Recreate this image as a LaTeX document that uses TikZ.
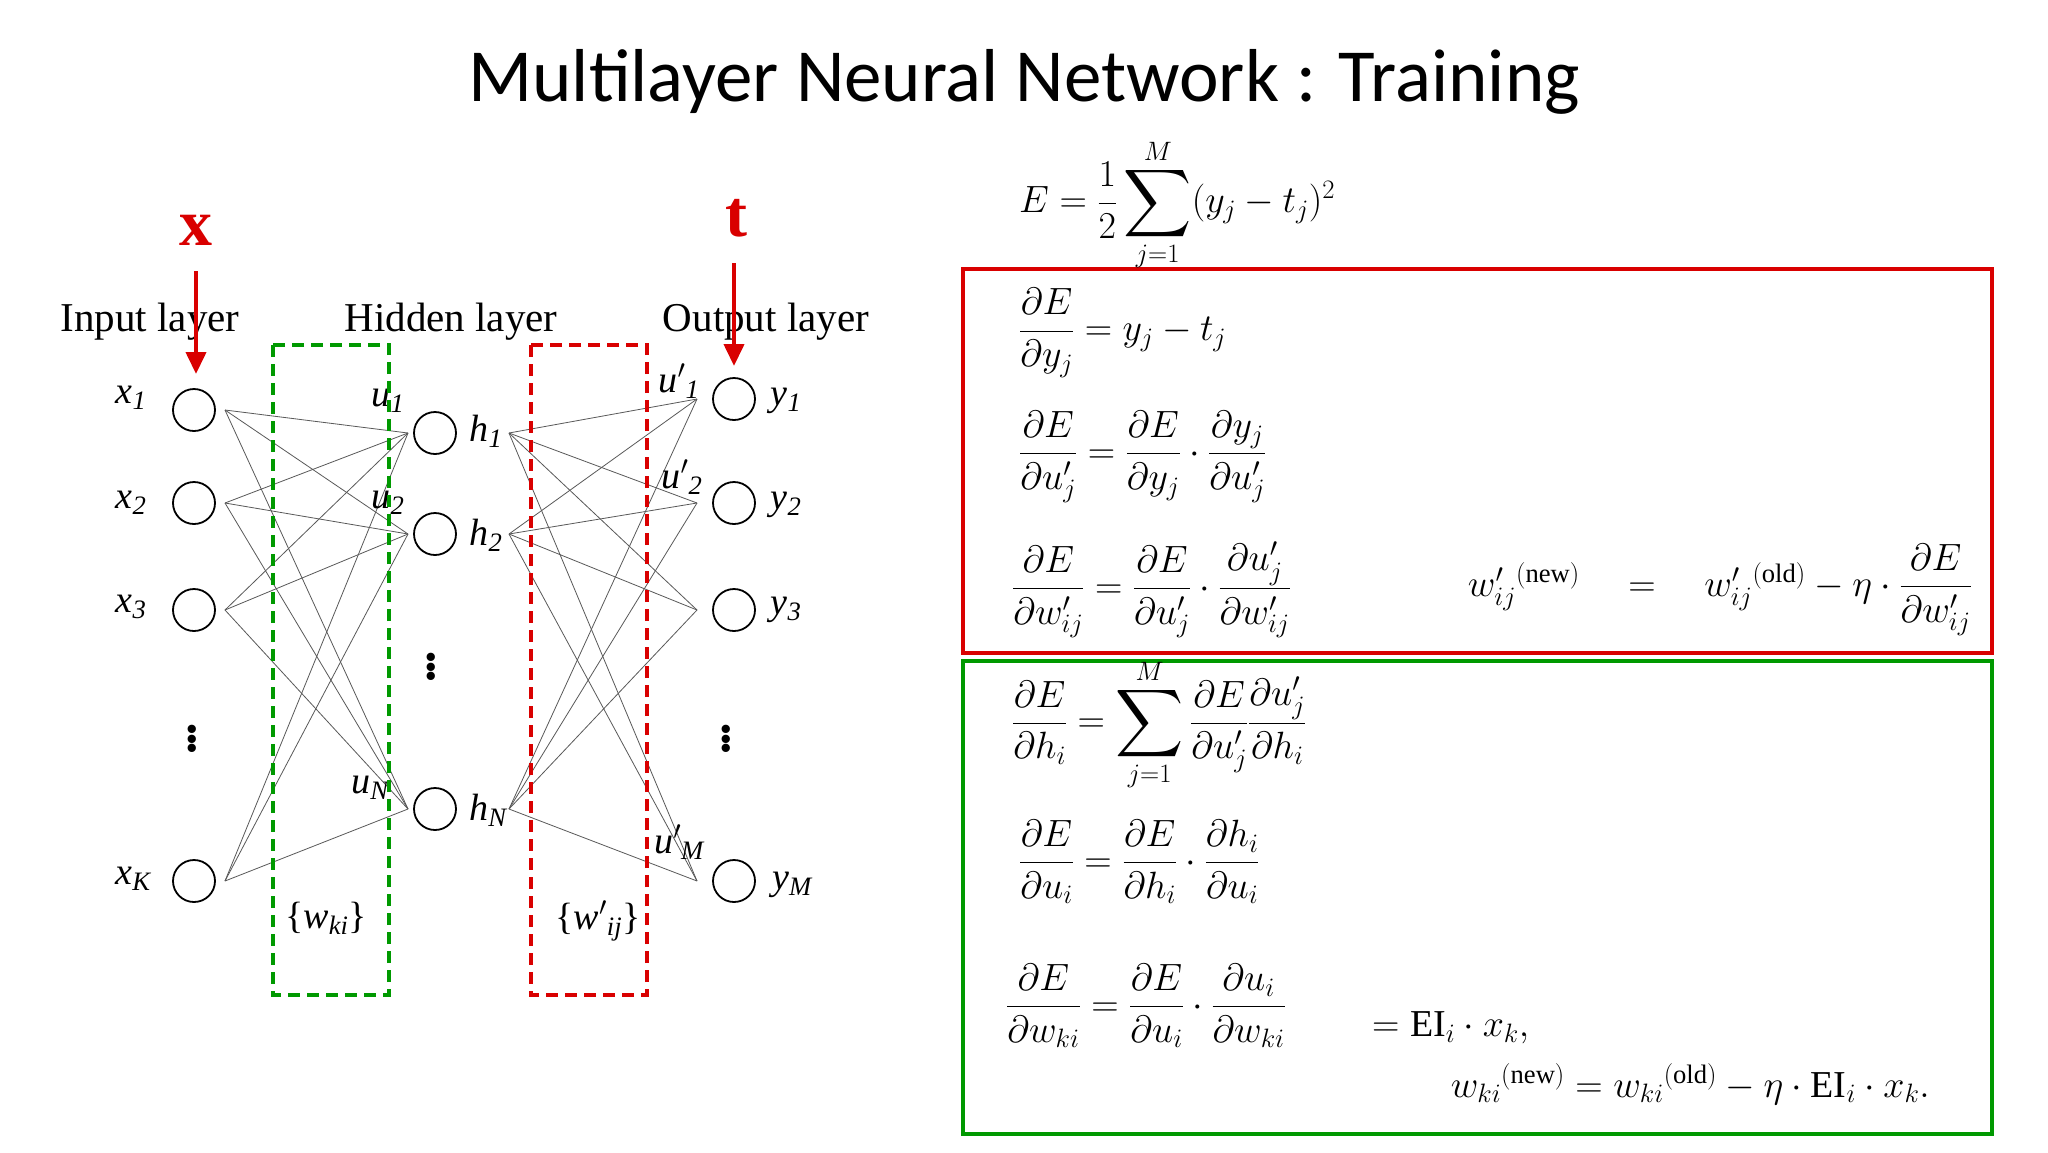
\RequirePackage{fix-cm}
\documentclass[tikz,border=0pt]{standalone}
\usepackage{amsmath}
\usepackage{exscale}
\usepackage{graphicx}
\usepackage{fontspec}
\usetikzlibrary{arrows.meta}
\setmainfont{Liberation Serif}
\newfontfamily\titlefont{Carlito}
\newcommand\mybigsum{\mathop{\vcenter{\hbox{\scalebox{1.9}{$\displaystyle\sum$}}}}\limits}
\begin{document}
\begin{tikzpicture}[x=1pt,y=-1pt,
  neu/.style={circle,draw,line width=1.8pt,minimum size=42pt,inner sep=0pt},
  lab/.style={font=\fontsize{38}{40}\selectfont\itshape},
  lay/.style={font=\fontsize{41}{44}\selectfont},
  eq/.style={anchor=west,inner sep=0pt,font=\fontsize{38}{42}\selectfont},
  wire/.style={line width=0.8pt,gray!70!black},
  dts/.style={font=\fontsize{70}{70}\selectfont},
  arr/.style={red!85!black,line width=4pt,-{Triangle[length=22pt,width=20pt]}}]
\useasboundingbox (0,0) rectangle (2048,1152);
\fill[white] (0,0) rectangle (2048,1152);
\node[font=\titlefont\fontsize{75}{80}\selectfont] (title) at (1024,82) {Multilayer Neural Network : Training};
% layers
\node[lay] (il) at (150,322) {Input layer};
\node[lay] (hl) at (451,322) {Hidden layer};
\node[lay] (ol) at (766,322) {Output layer};
\foreach \n/\y in {1/410,2/503,3/610,K/881}{\node[neu] (x\n) at (194,\y) {};}
\foreach \n/\y in {1/433,2/534,N/809}{\node[neu] (h\n) at (435,\y) {};}
\foreach \n/\y in {1/399,2/503,3/610,M/881}{\node[neu] (y\n) at (734,\y) {};}
\foreach \n/\y in {1/410,2/503,3/610,K/881}{\coordinate (xo\n) at (225,\y);}
\foreach \n/\y in {1/433,2/534,N/809}{\coordinate (hi\n) at (408,\y); \coordinate (ho\n) at (509,\y);}
\foreach \n/\y in {1/399,2/503,3/610,M/881}{\coordinate (yi\n) at (697,\y);}
\foreach \a in {1,2,3,K}{\foreach \b in {1,2,N}{\draw[wire] (xo\a) -- (hi\b);}}
\foreach \a in {1,2,N}{\foreach \b in {1,2,3,M}{\draw[wire] (ho\a) -- (yi\b);}}
% labels
\node[lab] (lx1) at (131,398) {x\textsubscript{1}};
\node[lab] (lx2) at (131,503) {x\textsubscript{2}};
\node[lab] (lx3) at (131,607) {x\textsubscript{3}};
\node[lab] (lxK) at (133,879) {x\textsubscript{K}};
\node[lab] (lu1) at (388,401) {u\textsubscript{1}};
\node[lab] (lu2) at (388,503) {u\textsubscript{2}};
\node[lab] (luN) at (370,788) {u\textsubscript{N}};
\node[lab] (lh1) at (486,431) {h\textsubscript{1}};
\node[lab] (lh2) at (486,535) {h\textsubscript{2}};
\node[lab] (lhN) at (488,810) {h\textsubscript{N}};
\node[lab] (lv1) at (679,381) {u$'$\textsubscript{1}};
\node[lab] (lv2) at (682,477) {u$'$\textsubscript{2}};
\node[lab] (lvM) at (679,842) {u$'$\textsubscript{M}};
\node[lab] (ly1) at (786,401) {y\textsubscript{1}};
\node[lab] (ly2) at (786,505) {y\textsubscript{2}};
\node[lab] (ly3) at (786,610) {y\textsubscript{3}};
\node[lab] (lyM) at (792,885) {y\textsubscript{M}};
\node[lab] (wk) at (326,918) {\upshape\{\itshape w\textsubscript{ki}\upshape\}};
\node[lab] (wp) at (598,921) {\upshape\{\itshape w$'$\textsubscript{ij}\upshape\}};
\node[dts] (d1) at (192,736) {$\vdots$};
\node[dts] (d2) at (431,664) {$\vdots$};
\node[dts] (d3) at (726,736) {$\vdots$};
% boxes
\draw[green!60!black,dashed,line width=3.5pt,dash pattern=on 12pt off 7pt] (273,345) rectangle (389,995);
\draw[red!85!black,dashed,line width=3.5pt,dash pattern=on 12pt off 7pt] (531,345) rectangle (647,995);
% arrows
\node[text=red!85!black,font=\fontsize{66}{66}\selectfont\bfseries] (xl) at (196,230) {x};
\node[text=red!85!black,font=\fontsize{66}{66}\selectfont\bfseries] (tl) at (736,218) {t};
\coordinate (xa) at (196,271); \coordinate (xb) at (196,374);
\coordinate (ta) at (734,263); \coordinate (tb) at (734,366);
\draw[arr] (xa) -- (xb);
\draw[arr] (ta) -- (tb);
% equation boxes
\draw[red!85!black,line width=3.5pt] (963,269) rectangle (1992,653);
\draw[green!60!black,line width=3.5pt] (963,661) rectangle (1992,1134);
\node[eq] (e0) at (1019,205) {$E=\dfrac12\mybigsum_{j=1}^{M}(y_j-t_j)^2$};
\node[eq] (e1) at (1019,333) {$\dfrac{\partial E}{\partial y_j}=y_j-t_j$};
\node[eq] (e2) at (1019,457) {$\dfrac{\partial E}{\partial u'_j}=\dfrac{\partial E}{\partial y_j}\cdot\dfrac{\partial y_j}{\partial u'_j}$};
\node[eq] (e3) at (1012,590) {$\dfrac{\partial E}{\partial w'_{ij}}=\dfrac{\partial E}{\partial u'_j}\cdot\dfrac{\partial u'_j}{\partial w'_{ij}}$};
\node[eq,anchor=east] (e3b) at (1972,590) {$w'_{ij}{}^{(\mathrm{new})}\quad=\quad w'_{ij}{}^{(\mathrm{old})}-\eta\cdot\dfrac{\partial E}{\partial w'_{ij}}$};
\node[eq] (e4) at (1012,725) {$\dfrac{\partial E}{\partial h_i}=\mybigsum_{j=1}^{M}\dfrac{\partial E}{\partial u'_j}\dfrac{\partial u'_j}{\partial h_i}$};
\node[eq] (e5) at (1019,862) {$\dfrac{\partial E}{\partial u_i}=\dfrac{\partial E}{\partial h_i}\cdot\dfrac{\partial h_i}{\partial u_i}$};
\node[eq] (e6) at (1006,1006) {$\dfrac{\partial E}{\partial w_{ki}}=\dfrac{\partial E}{\partial u_i}\cdot\dfrac{\partial u_i}{\partial w_{ki}}$};
\node[eq,anchor=west] (e6b) at (1372,1028) {$=\mathrm{EI}_i\cdot x_k,$};
\node[eq,anchor=east] (e7) at (1930,1084) {$w_{ki}{}^{(\mathrm{new})}=w_{ki}{}^{(\mathrm{old})}-\eta\cdot\mathrm{EI}_i\cdot x_k.$};
\end{tikzpicture}
\end{document}
